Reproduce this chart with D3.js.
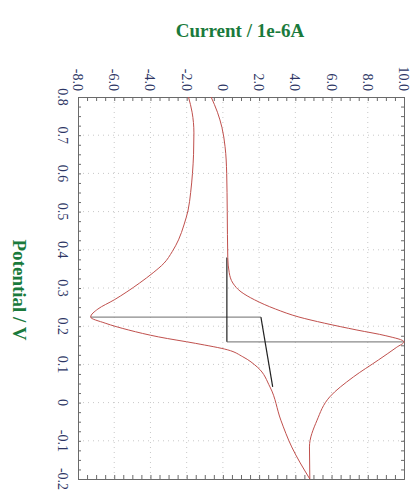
<!DOCTYPE html><html><head><script src="https://cdn.jsdelivr.net/npm/d3@7"></script>
<style>body{margin:0;background:#fff}</style></head><body><svg width="420" height="499"></svg>
<script>
const xTicks=[-8,-6,-4,-2,0,2,4,6,8,10];
const xTickLabels=["-8.0","-6.0","-4.0","-2.0","0","2.0","4.0","6.0","8.0","10.0"];
const yTicks=[0.8,0.7,0.6,0.5,0.4,0.3,0.2,0.1,0,-0.1,-0.2];
const yTickLabels=["0.8","0.7","0.6","0.5","0.4","0.3","0.2","0.1","0","-0.1","-0.2"];
// [potential V, current 1e-6A]
const curveA=[[-0.2,4.8],[-0.116,4.78],[-0.046,5.2],[0.015,5.9],[0.067,7.2],[0.112,8.6],[0.145,9.6],[0.159,10.0],[0.175,9.0],[0.19,7.4],[0.208,5.6],[0.224,4.2],[0.245,2.9],[0.269,1.75],[0.29,1.0],[0.313,0.55],[0.34,0.35],[0.38,0.27],[0.5,0.24],[0.6,0.21],[0.67,0.12],[0.72,-0.05],[0.76,-0.3],[0.8,-0.65]];
const curveB=[[-0.2,4.8],[-0.116,3.8],[-0.046,3.2],[0.041,2.6],[0.093,1.9],[0.12,1.1],[0.138,0.27],[0.155,-1.5],[0.172,-3.55],[0.19,-5.2],[0.208,-6.5],[0.224,-7.3],[0.245,-6.9],[0.269,-6.0],[0.29,-5.3],[0.313,-4.6],[0.34,-3.85],[0.365,-3.25],[0.395,-2.8],[0.426,-2.45],[0.465,-2.15],[0.504,-1.92],[0.55,-1.78],[0.6,-1.68],[0.65,-1.62],[0.706,-1.6],[0.76,-1.7],[0.8,-1.9]];
const grayLines=[[[0.224,-7.3],[0.224,2.1]],[[0.159,0.22],[0.159,10.0]]];
const blackLines=[[[0.38,0.22],[0.159,0.22]],[[0.224,2.1],[0.041,2.75]]];

const svg=d3.select("svg");
const L=78,R=404,T=97,B=479;
const x=d3.scaleLinear().domain([-8,10]).range([L,R]);
const y=d3.scaleLinear().domain([-0.2,0.8]).range([B,T]);
const g=svg.append("g");
g.selectAll(".gx").data(xTicks.slice(1,-1)).join("line").attr("x1",d=>x(d)).attr("x2",d=>x(d)).attr("y1",T).attr("y2",B).attr("stroke","#c8c8c8").attr("stroke-dasharray","1,4");
g.selectAll(".gy").data(yTicks.slice(1,-1)).join("line").attr("y1",d=>y(d)).attr("y2",d=>y(d)).attr("x1",L).attr("x2",R).attr("stroke","#c8c8c8").attr("stroke-dasharray","1,4");
const ac="#6a6a6a";
const xmin=d3.range(-8,10.01,0.5), ymin=d3.range(-0.2,0.801,0.025);
svg.append("g").attr("transform",`translate(0,${T})`).call(d3.axisBottom(x).tickValues(xmin).tickSize(4).tickFormat("")).call(a=>{a.select(".domain").attr("stroke",ac);a.selectAll("line").attr("stroke",ac)});
svg.append("g").attr("transform",`translate(0,${B})`).call(d3.axisTop(x).tickValues(xmin).tickSize(4).tickFormat("")).call(a=>{a.select(".domain").attr("stroke",ac);a.selectAll("line").attr("stroke",ac)});
svg.append("g").attr("transform",`translate(${L},0)`).call(d3.axisRight(y).tickValues(ymin).tickSize(3).tickFormat("")).call(a=>{a.select(".domain").attr("stroke",ac);a.selectAll("line").attr("stroke",ac)});
svg.append("g").attr("transform",`translate(${R},0)`).call(d3.axisLeft(y).tickValues(ymin).tickSize(3).tickFormat("")).call(a=>{a.select(".domain").attr("stroke",ac);a.selectAll("line").attr("stroke",ac)});
const tc="#2c3564";
svg.selectAll(".xl").data(xTicks).join("text").attr("transform",(d,i)=>`translate(${x(d)-5},${T-6}) rotate(90)`).attr("text-anchor","end").attr("font-family","Liberation Serif").attr("font-size",14).attr("fill",tc).text((d,i)=>xTickLabels[i]);
svg.selectAll(".yl").data(yTicks).join("text").attr("transform",(d,i)=>`translate(${L-20},${y(d)}) rotate(90)`).attr("text-anchor","middle").attr("font-family","Liberation Serif").attr("font-size",14).attr("fill",tc).text((d,i)=>yTickLabels[i]);
svg.append("text").attr("x",240).attr("y",37).attr("text-anchor","middle").attr("font-family","Liberation Serif").attr("font-weight","bold").attr("font-size",19).attr("fill","#1a7a3c").text("Current / 1e-6A");
svg.append("text").attr("transform","translate(13,290) rotate(90)").attr("text-anchor","middle").attr("font-family","Liberation Serif").attr("font-weight","bold").attr("font-size",19).attr("fill","#1a7a3c").text("Potential / V");
const line=d3.line().x(d=>x(d[1])).y(d=>y(d[0])).curve(d3.curveMonotoneY);
const ln=d3.line().x(d=>x(d[1])).y(d=>y(d[0]));
grayLines.forEach(l=>svg.append("path").attr("d",ln(l)).attr("stroke","#8a8a8a").attr("stroke-width",1.2).attr("fill","none"));
blackLines.forEach(l=>svg.append("path").attr("d",ln(l)).attr("stroke","#222").attr("stroke-width",1.2).attr("fill","none"));
[curveA,curveB].forEach(c=>svg.append("path").attr("d",line(c)).attr("stroke","#c0504d").attr("stroke-width",1).attr("fill","none"));
</script></body></html>
